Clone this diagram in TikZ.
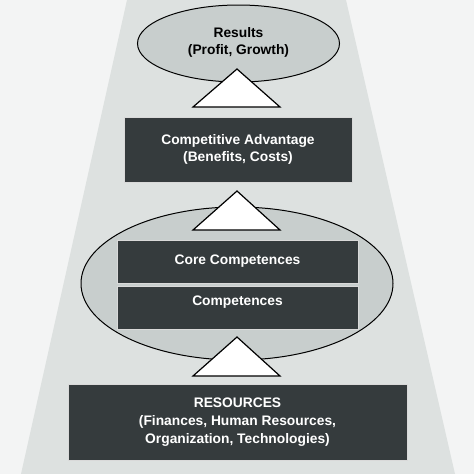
\documentclass[tikz,border=0pt]{standalone}
\usepackage{fontspec}
\setmainfont{Liberation Sans}
\usetikzlibrary{shapes.geometric}
\definecolor{bgc}{HTML}{F3F4F4}
\definecolor{trapc}{HTML}{DDE1E0}
\definecolor{ellc}{HTML}{C8CECD}
\definecolor{boxc}{HTML}{353B3D}
\tikzset{
  txtfont/.style={font=\bfseries\fontsize{13.8}{17.5}\selectfont, align=center},
  darkbox/.style={fill=boxc, draw=white!85!black, line width=0.6pt, text=white, txtfont, inner sep=0pt},
  ell/.style={fill=ellc, draw=black, line width=1pt},
  tri/.style={fill=white, draw=black, line width=1.2pt, line join=miter},
  lbl/.style={txtfont, text=black},
  wlbl/.style={txtfont, text=white, inner sep=0pt}
}
\begin{document}
\begin{tikzpicture}[x=1pt,y=-1pt]
\useasboundingbox (0,0) rectangle (474,474);
\fill[bgc] (0,0) rectangle (474,474);
\fill[trapc] (127,0) -- (346,0) -- (455,474) -- (21,474) -- cycle;
% results ellipse
\draw[ell] (238.5,43.5) ellipse [x radius=101, y radius=38.5];
\node[lbl] (results) at (238.5,42.5) {Results\\(Profit, Growth)};
% triangle 1
\coordinate (t1a) at (237,69);
\coordinate (t1l) at (193,107);
\coordinate (t1r) at (280,107);
\draw[tri] (t1a) -- (t1r) -- (t1l) -- cycle;
% competitive advantage
\node[darkbox, minimum width=228, minimum height=65] (ca) at (238,149.5) {Competitive Advantage\\(Benefits, Costs)};
% competences ellipse
\draw[ell] (237,283.5) ellipse [x radius=156, y radius=76.5];
% triangle 2
\coordinate (t2a) at (237,191);
\coordinate (t2l) at (193,230);
\coordinate (t2r) at (280,230);
\draw[tri] (t2a) -- (t2r) -- (t2l) -- cycle;
\node[darkbox, minimum width=241, minimum height=43] (core) at (237.5,261.5) {Core Competences};
\node[darkbox, minimum width=241, minimum height=43] (comp) at (237.5,307.5) {};
\node[wlbl] (compt) at (237.5,302) {Competences};
% triangle 3
\coordinate (t3a) at (237,337);
\coordinate (t3l) at (193,376);
\coordinate (t3r) at (280,376);
\draw[tri] (t3a) -- (t3r) -- (t3l) -- cycle;
\node[darkbox, minimum width=339, minimum height=76, font=\bfseries\fontsize{13.8}{18}\selectfont] (res) at (237.5,422) {RESOURCES\\(Finances, Human Resources,\\Organization, Technologies)};
\end{tikzpicture}
\end{document}
